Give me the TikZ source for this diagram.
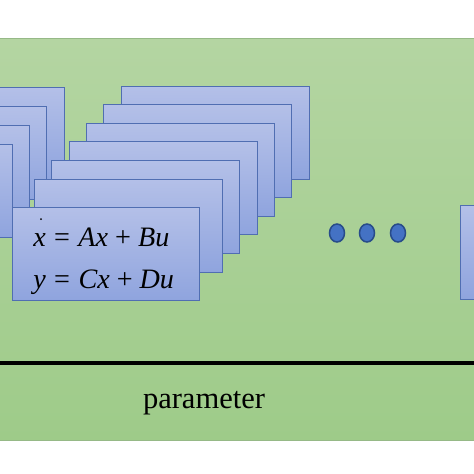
\documentclass[tikz,border=0pt]{standalone}
\usepackage{fontspec}
\setmainfont{Liberation Serif}
\definecolor{gruenhell}{RGB}{180,213,162}
\definecolor{gruendunkel}{RGB}{158,203,137}
\definecolor{gruenrand}{RGB}{150,185,135}
\definecolor{kartehell}{RGB}{180,192,232}
\definecolor{kartedunkel}{RGB}{143,164,222}
\definecolor{karterand}{RGB}{80,110,178}
\definecolor{punktfill}{RGB}{68,114,196}
\definecolor{punktrand}{RGB}{40,76,138}
\tikzset{
	karte/.style={draw=karterand, line width=0.7pt, top color=kartehell, bottom color=kartedunkel},
	punkt/.style={draw=punktrand, line width=1.1pt, fill=punktfill},
	gleichung/.style={anchor=base west, inner sep=0pt, font=\fontsize{20}{24}\selectfont}
}
\begin{document}
\begin{tikzpicture}[x=0.025cm, y=-0.025cm]
	\useasboundingbox (0,0) rectangle (474,474);
	\clip (0,0) rectangle (474,474);
	% Hintergrund
	\shade[top color=gruenhell, bottom color=gruendunkel] (0,38) rectangle (480,440);
	\draw[gruenrand, line width=0.5pt] (0,38) -- (480,38) (0,440) -- (480,440);
	% linker Stapel
	\foreach \i in {0,...,3}
		\filldraw[karte] ({-124-17.3*\i}, {87+19*\i}) rectangle ++(188,93);
	% mittlerer Stapel
	\foreach \i in {0,...,5}
		\filldraw[karte] ({121-17.3*\i}, {86+18.6*\i}) rectangle ++(188,93);
	\filldraw[karte] (12,207) rectangle (199,300);
	% Gleichungen
	\fill (41,219) circle (1);
	\node[gleichung] (gla) at (33,246) {\textit{x}\hspace{0.3em}=\hspace{0.3em}\textit{Ax}\hspace{0.25em}+\hspace{0.25em}\textit{Bu}};
	\node[gleichung] (glb) at (33,288) {\textit{y}\hspace{0.3em}=\hspace{0.3em}\textit{Cx}\hspace{0.25em}+\hspace{0.25em}\textit{Du}};
	% rechter Stapel
	\filldraw[karte] (460,205) rectangle ++(188,94);
	% Punkte
	\foreach \x in {337,367,398}
		\filldraw[punkt] (\x,233) ellipse (7.5 and 9);
	% Trennlinie
	\draw[line width=2.4pt] (0,363) -- (474,363);
	% Beschriftung
	\node[anchor=base, inner sep=0pt, font=\fontsize{21.7}{26}\selectfont] (param) at (204,408) {parameter};
\end{tikzpicture}
\end{document}
